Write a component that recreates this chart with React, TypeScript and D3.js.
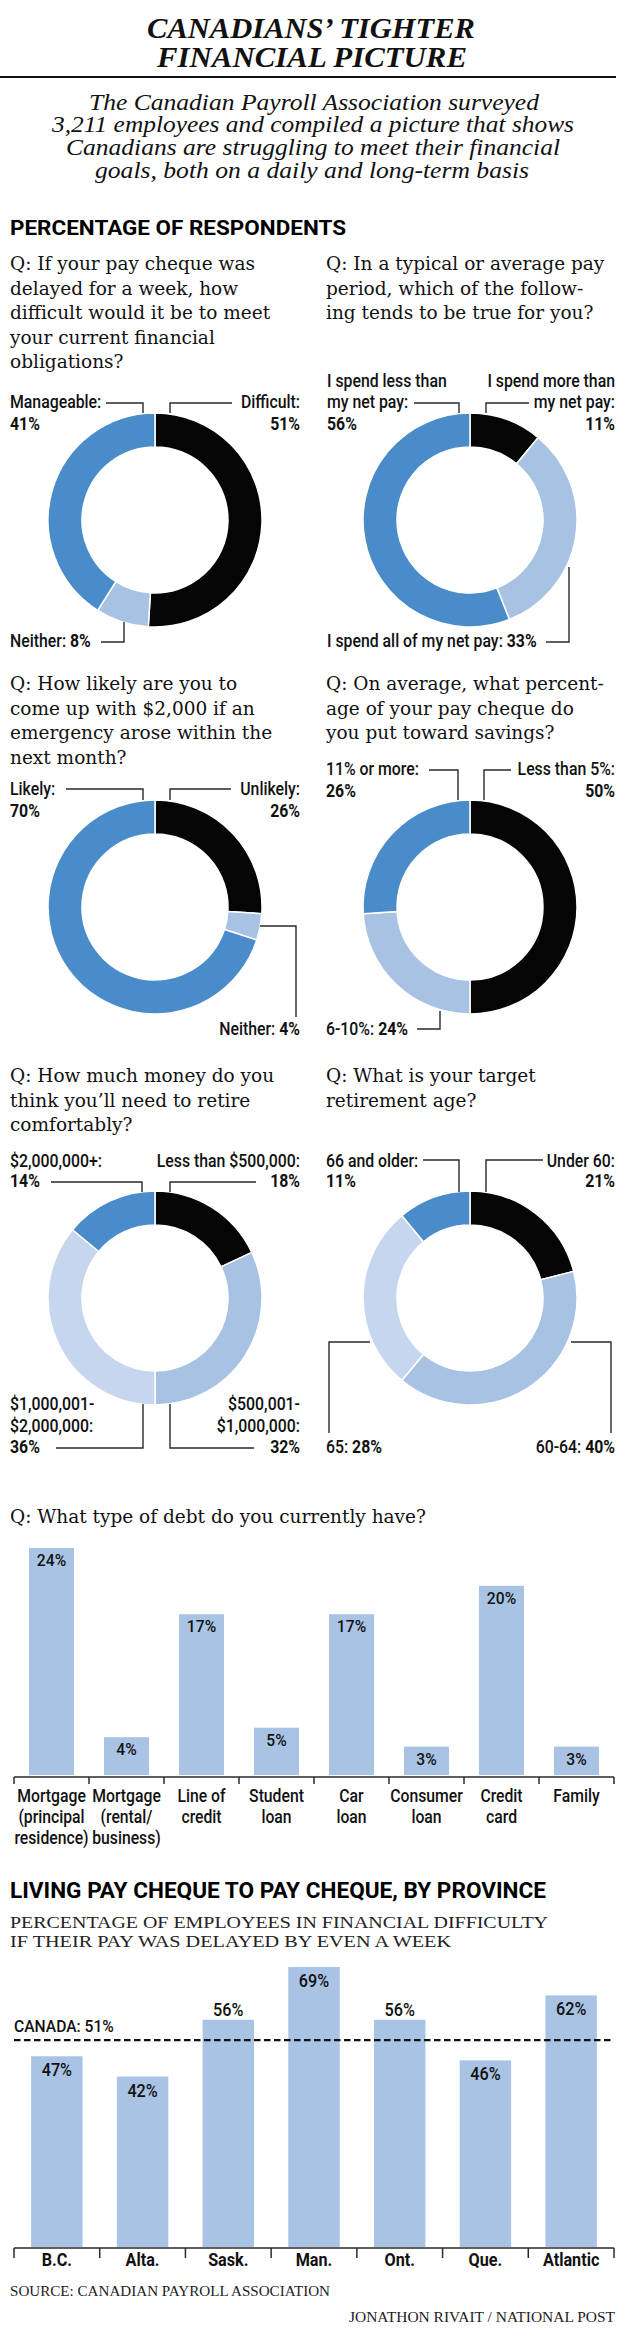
import React from "react";
import * as d3 from "d3";

const W = 620;
const H = 2329;

// ---------- DATA ----------
const q1Labels = ["Difficult", "Neither", "Manageable"];
const q1Values = [51, 8, 41];
const q2Labels = ["I spend more than my net pay", "I spend all of my net pay", "I spend less than my net pay"];
const q2Values = [11, 33, 56];
const q3Labels = ["Unlikely", "Neither", "Likely"];
const q3Values = [26, 4, 70];
const q4Labels = ["Less than 5%", "6-10%", "11% or more"];
const q4Values = [50, 24, 26];
const q5Labels = ["Less than $500,000", "$500,001-$1,000,000", "$1,000,001-$2,000,000", "$2,000,000+"];
const q5Values = [18, 32, 36, 14];
const q6Labels = ["Under 60", "60-64", "65", "66 and older"];
const q6Values = [21, 40, 28, 11];

const debtCategories = [
  ["Mortgage", "(principal", "residence)"],
  ["Mortgage", "(rental/", "business)"],
  ["Line of", "credit"],
  ["Student", "loan"],
  ["Car", "loan"],
  ["Consumer", "loan"],
  ["Credit", "card"],
  ["Family"],
];
const debtValues = [24, 4, 17, 5, 17, 3, 20, 3];

const provinces = ["B.C.", "Alta.", "Sask.", "Man.", "Ont.", "Que.", "Atlantic"];
const provinceValues = [47, 42, 56, 69, 56, 46, 62];
const canadaValue = 51;

// ---------- STYLE ----------
const BLACK = "#050505";
const MED = "#4a8cca";
const LIGHT = "#a8c2e4";
const LIGHTER = "#c6d6ee";
const BAR = "#a9c3e5";
const LINE = "#2a2a2a";

const SANS = "Roboto, 'Noto Sans', sans-serif";
const SERIF = "'DejaVu Serif', serif";
const TSERIF = "'Liberation Serif', 'DejaVu Serif', serif";

const R_OUT = 107;
const R_IN = 73;

function Donut({ cx, cy, values, colors }: { cx: number; cy: number; values: number[]; colors: string[] }) {
  const pie = d3.pie<number>().sort(null).value((d) => d)(values);
  const arc = d3.arc<d3.PieArcDatum<number>>().innerRadius(R_IN).outerRadius(R_OUT);
  return (
    <g transform={`translate(${cx},${cy})`}>
      {pie.map((p, i) => (
        <path key={i} d={arc(p) || ""} fill={colors[i]} stroke="#fff" strokeWidth={1.5} />
      ))}
    </g>
  );
}

// condensed-looking sans text (horizontal squeeze)
function NText({ x, y, anchor = "start", bold = false, size = 18, sx = 0.88, children, fill = "#111" }: any) {
  return (
    <text
      transform={`translate(${x},${y}) scale(${sx},1)`}
      textAnchor={anchor}
      fontFamily={SANS}
      fontSize={size}
      fontWeight={bold ? 700 : 500}
      fill={fill}
    >
      {children}
    </text>
  );
}

function Lbl(props: any) {
  return <NText size={18} sx={0.88} {...props} />;
}

function Leader({ d }: { d: string }) {
  return <path d={d} fill="none" stroke={LINE} strokeWidth={1.4} />;
}

function Question({ x, y, lines }: { x: number; y: number; lines: string[] }) {
  return (
    <text x={x} y={y} fontFamily={SERIF} fontSize={18.5} fill="#111">
      {lines.map((l, i) => (
        <tspan key={i} x={x} dy={i === 0 ? 0 : 24.5}>
          {l}
        </tspan>
      ))}
    </text>
  );
}

function DebtChart() {
  const x = d3.scaleBand<number>().domain(d3.range(debtValues.length)).range([14, 614]).paddingInner(0.4).paddingOuter(0.2);
  const y = d3.scaleLinear().domain([0, 24]).range([1775, 1548]);
  const step = x.step();
  return (
    <g>
      {debtValues.map((v, i) => {
        const cx = (x(i) as number) + x.bandwidth() / 2;
        return (
          <g key={i}>
            <rect x={x(i)} y={y(v)} width={x.bandwidth()} height={y(0) - y(v)} fill={BAR} />
            <NText x={cx} y={y(v) + 18} anchor="middle" size={17} sx={0.92}>
              {v}%
            </NText>
            {debtCategories[i].map((l, j) => (
              <NText key={j} x={cx} y={1802 + j * 21} anchor="middle" size={17.5} sx={0.9}>
                {l}
              </NText>
            ))}
          </g>
        );
      })}
      <line x1={14} x2={614} y1={1777} y2={1777} stroke={LINE} strokeWidth={1.5} />
      {d3.range(debtValues.length + 1).map((i) => (
        <line key={i} x1={14 + i * step} x2={14 + i * step} y1={1777} y2={1784} stroke={LINE} strokeWidth={1.5} />
      ))}
    </g>
  );
}

function ProvinceChart() {
  const x = d3.scaleBand<string>().domain(provinces).range([14, 614]).paddingInner(0.4).paddingOuter(0.2);
  const y = d3.scaleLinear().domain([0, 69]).range([2247, 1967]);
  const step = x.step();
  const cy = y(canadaValue);
  return (
    <g>
      {provinceValues.map((v, i) => {
        const p = provinces[i];
        const top = y(v);
        const inside = top + 20;
        const ly = Math.abs(inside - 4 - cy) < 12 ? top - 4 : inside;
        const cx = (x(p) as number) + x.bandwidth() / 2;
        return (
          <g key={p}>
            <rect x={x(p)} y={top} width={x.bandwidth()} height={y(0) - top} fill={BAR} />
            <NText x={cx} y={ly} anchor="middle" size={18} sx={0.9}>
              {v}%
            </NText>
            <NText x={cx} y={2266} anchor="middle" size={18} sx={0.9} bold>
              {p}
            </NText>
          </g>
        );
      })}
      <line x1={14} x2={614} y1={cy} y2={cy} stroke="#111" strokeWidth={2.2} strokeDasharray="6.5 3.5" />
      <NText x={14} y={cy - 8} size={17} sx={0.92}>
        CANADA: {canadaValue}%
      </NText>
      <line x1={14} x2={614} y1={2248} y2={2248} stroke={LINE} strokeWidth={1.5} />
      {d3.range(provinces.length + 1).map((i) => (
        <line key={i} x1={14 + i * step} x2={14 + i * step} y1={2248} y2={2258} stroke={LINE} strokeWidth={1.5} />
      ))}
    </g>
  );
}

export default function App() {
  const L = 155;
  const Rx = 470;
  return (
    <svg width={W} height={H} viewBox={`0 0 ${W} ${H}`} style={{ position: "absolute", left: 0, top: 0, background: "#fff" }}>
      <rect width={W} height={H} fill="#fff" />
      {/* Title */}
      <text x={147} y={38} fontFamily={TSERIF} fontStyle="italic" fontWeight={700} fontSize={30} textLength={328} lengthAdjust="spacingAndGlyphs" fill="#111">
        CANADIANS’ TIGHTER
      </text>
      <text x={157} y={67} fontFamily={TSERIF} fontStyle="italic" fontWeight={700} fontSize={30} textLength={310} lengthAdjust="spacingAndGlyphs" fill="#111">
        FINANCIAL PICTURE
      </text>
      <line x1={0} x2={616} y1={77} y2={77} stroke="#111" strokeWidth={2} />
      {[
        ["The Canadian Payroll Association surveyed", 89, 110, 450],
        ["3,211 employees and compiled a picture that shows", 52, 132, 522],
        ["Canadians are struggling to meet their financial", 66, 155, 494],
        ["goals, both on a daily and long-term basis", 95, 178, 434],
      ].map(([t, x, y, len]: any, i) => (
        <text key={i} x={x} y={y} fontFamily={TSERIF} fontStyle="italic" fontSize={23.5} textLength={len} lengthAdjust="spacingAndGlyphs" fill="#111">
          {t}
        </text>
      ))}

      <text x={10} y={235} fontFamily={SANS} fontWeight={700} fontSize={21} textLength={336} lengthAdjust="spacingAndGlyphs" fill="#000">
        PERCENTAGE OF RESPONDENTS
      </text>

      {/* Row 1 */}
      <Question x={10} y={270} lines={["Q: If your pay cheque was", "delayed for a week, how", "difficult would it be to meet", "your current financial", "obligations?"]} />
      <Question x={326} y={270} lines={["Q: In a typical or average pay", "period, which of the follow-", "ing tends to be true for you?"]} />

      <Donut cx={L} cy={520} values={q1Values} colors={[BLACK, LIGHT, MED]} />
      <Lbl x={10} y={408}>{q1Labels[2]}:</Lbl>
      <Lbl x={10} y={430} bold>{q1Values[2]}%</Lbl>
      <Leader d="M106,403 H143 V413" />
      <Lbl x={300} y={408} anchor="end">{q1Labels[0]}:</Lbl>
      <Lbl x={300} y={430} anchor="end" bold>{q1Values[0]}%</Lbl>
      <Leader d="M170,413 V403 H232" />
      <Lbl x={10} y={647}>{q1Labels[1]}: <tspan fontWeight={700}>{q1Values[1]}%</tspan></Lbl>
      <Leader d="M101,642 H124 V622" />

      <Donut cx={Rx} cy={520} values={q2Values} colors={[BLACK, LIGHT, MED]} />
      <Lbl x={327} y={387}>I spend less than</Lbl>
      <Lbl x={327} y={408}>my net pay:</Lbl>
      <Lbl x={327} y={430} bold>{q2Values[2]}%</Lbl>
      <Leader d="M414,403 H459 V413" />
      <Lbl x={615} y={387} anchor="end">I spend more than</Lbl>
      <Lbl x={615} y={408} anchor="end">my net pay:</Lbl>
      <Lbl x={615} y={430} anchor="end" bold>{q2Values[0]}%</Lbl>
      <Leader d="M486,413 V403 H529" />
      <Lbl x={327} y={647}>{q2Labels[1]}: <tspan fontWeight={700}>{q2Values[1]}%</tspan></Lbl>
      <Leader d="M546,642 H569 V567" />

      {/* Row 2 */}
      <Question x={10} y={690} lines={["Q: How likely are you to", "come up with $2,000 if an", "emergency arose within the", "next month?"]} />
      <Question x={326} y={690} lines={["Q: On average, what percent-", "age of your pay cheque do", "you put toward savings?"]} />

      <Donut cx={L} cy={907} values={q3Values} colors={[BLACK, LIGHT, MED]} />
      <Lbl x={10} y={795}>{q3Labels[2]}:</Lbl>
      <Lbl x={10} y={817} bold>{q3Values[2]}%</Lbl>
      <Leader d="M66,789 H143 V800" />
      <Lbl x={300} y={795} anchor="end">{q3Labels[0]}:</Lbl>
      <Lbl x={300} y={817} anchor="end" bold>{q3Values[0]}%</Lbl>
      <Leader d="M170,800 V789 H231" />
      <Lbl x={300} y={1035} anchor="end">{q3Labels[1]}: <tspan fontWeight={700}>{q3Values[1]}%</tspan></Lbl>
      <Leader d="M260,926 H296 V1017" />

      <Donut cx={Rx} cy={907} values={q4Values} colors={[BLACK, LIGHT, MED]} />
      <Lbl x={326} y={775}>{q4Labels[2]}:</Lbl>
      <Lbl x={326} y={797} bold>{q4Values[2]}%</Lbl>
      <Leader d="M429,770 H458 V800" />
      <Lbl x={615} y={775} anchor="end">{q4Labels[0]}:</Lbl>
      <Lbl x={615} y={797} anchor="end" bold>{q4Values[0]}%</Lbl>
      <Leader d="M484,800 V770 H511" />
      <Lbl x={326} y={1035}>{q4Labels[1]}: <tspan fontWeight={700}>{q4Values[1]}%</tspan></Lbl>
      <Leader d="M417,1029 H440 V1011" />

      {/* Row 3 */}
      <Question x={10} y={1082} lines={["Q: How much money do you", "think you’ll need to retire", "comfortably?"]} />
      <Question x={326} y={1082} lines={["Q: What is your target", "retirement age?"]} />

      <Donut cx={L} cy={1298} values={q5Values} colors={[BLACK, LIGHT, LIGHTER, MED]} />
      <Lbl x={10} y={1167}>{q5Labels[3]}:</Lbl>
      <Lbl x={10} y={1187} bold>{q5Values[3]}%</Lbl>
      <Leader d="M51,1182 H142 V1192" />
      <Lbl x={300} y={1167} anchor="end">{q5Labels[0]}:</Lbl>
      <Lbl x={300} y={1187} anchor="end" bold>{q5Values[0]}%</Lbl>
      <Leader d="M170,1192 V1182 H256" />
      <Lbl x={10} y={1410}>$1,000,001-</Lbl>
      <Lbl x={10} y={1432}>$2,000,000:</Lbl>
      <Lbl x={10} y={1453} bold>{q5Values[2]}%</Lbl>
      <Leader d="M56,1448 H143 V1404" />
      <Lbl x={300} y={1410} anchor="end">$500,001-</Lbl>
      <Lbl x={300} y={1432} anchor="end">$1,000,000:</Lbl>
      <Lbl x={300} y={1453} anchor="end" bold>{q5Values[1]}%</Lbl>
      <Leader d="M170,1404 V1448 H254" />

      <Donut cx={Rx} cy={1298} values={q6Values} colors={[BLACK, LIGHT, LIGHTER, MED]} />
      <Lbl x={326} y={1167}>{q6Labels[3]}:</Lbl>
      <Lbl x={326} y={1187} bold>{q6Values[3]}%</Lbl>
      <Leader d="M423,1160 H459 V1192" />
      <Lbl x={615} y={1167} anchor="end">{q6Labels[0]}:</Lbl>
      <Lbl x={615} y={1187} anchor="end" bold>{q6Values[0]}%</Lbl>
      <Leader d="M486,1192 V1160 H543" />
      <Lbl x={326} y={1453}>{q6Labels[2]}: <tspan fontWeight={700}>{q6Values[2]}%</tspan></Lbl>
      <Leader d="M370,1342 H329 V1433" />
      <Lbl x={615} y={1453} anchor="end">{q6Labels[1]}: <tspan fontWeight={700}>{q6Values[1]}%</tspan></Lbl>
      <Leader d="M571,1342 H611 V1433" />

      {/* Debt */}
      <Question x={10} y={1523} lines={["Q: What type of debt do you currently have?"]} />
      <DebtChart />

      {/* Province */}
      <text x={10} y={1898} fontFamily={SANS} fontWeight={700} fontSize={22} textLength={536} lengthAdjust="spacingAndGlyphs" fill="#000">
        LIVING PAY CHEQUE TO PAY CHEQUE, BY PROVINCE
      </text>
      <text x={10} y={1928} fontFamily={TSERIF} fontSize={17.5} textLength={538} lengthAdjust="spacingAndGlyphs" fill="#222">
        PERCENTAGE OF EMPLOYEES IN FINANCIAL DIFFICULTY
      </text>
      <text x={10} y={1947} fontFamily={TSERIF} fontSize={17.5} textLength={441} lengthAdjust="spacingAndGlyphs" fill="#222">
        IF THEIR PAY WAS DELAYED BY EVEN A WEEK
      </text>
      <ProvinceChart />

      <text x={10} y={2296} fontFamily={TSERIF} fontSize={15} textLength={320} lengthAdjust="spacingAndGlyphs" fill="#222">
        SOURCE: CANADIAN PAYROLL ASSOCIATION
      </text>
      <text x={349} y={2322} fontFamily={TSERIF} fontSize={15} textLength={266} lengthAdjust="spacingAndGlyphs" fill="#222">
        JONATHON RIVAIT / NATIONAL POST
      </text>
    </svg>
  );
}
